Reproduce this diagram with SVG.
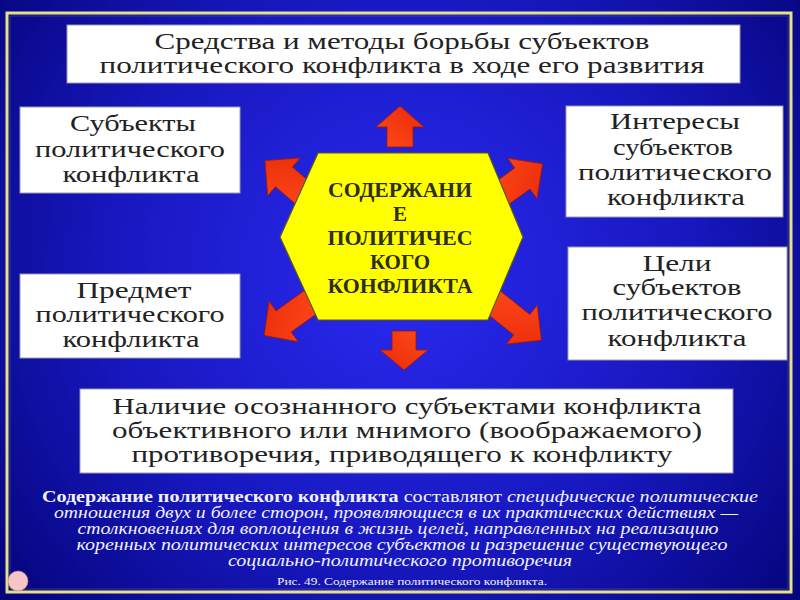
<svg xmlns="http://www.w3.org/2000/svg" width="800" height="600" viewBox="0 0 800 600">
<defs>
<radialGradient id="bg" cx="400" cy="270" r="520" gradientUnits="userSpaceOnUse">
<stop offset="0" stop-color="#2a2af2"/>
<stop offset="0.55" stop-color="#1818c0"/>
<stop offset="1" stop-color="#04047a"/>
</radialGradient>
<linearGradient id="ar" x1="0" y1="0" x2="1" y2="1">
<stop offset="0" stop-color="#ff4a1a"/>
<stop offset="1" stop-color="#e82a08"/>
</linearGradient>
<style>
.box{fill:#ffffff;stroke:#9a9aa8;stroke-width:1}
.ser{font-family:'Liberation Serif','Tinos','DejaVu Serif','Times New Roman',serif}
.bt{font-size:24px;fill:#222222;text-anchor:middle}
.bt2{font-size:23px;fill:#222222;text-anchor:middle}
.ht{font-size:21px;font-weight:bold;fill:#2e2e1c;text-anchor:middle}
.arw{fill:url(#ar);stroke:#a01800;stroke-width:0.8}
.pt{font-size:16px;fill:#f2f2ff;font-style:italic;text-anchor:middle}
</style>
</defs>
<rect x="0" y="0" width="800" height="600" fill="url(#bg)"/>
<rect x="7" y="13" width="784" height="579" fill="none" stroke="#e6e08a" stroke-width="3"/>
<rect x="10" y="16" width="778" height="573" fill="none" stroke="#8a8a60" stroke-width="0.6" opacity="0.6"/>

<g id="connectors">
<polygon class="arw" transform="translate(400,147) rotate(-90)" points="0,-13 20,-13 20,-24 41,0 20,24 20,13 0,13"/>
<polygon class="arw" transform="translate(404,331) rotate(90)" points="0,-12 19,-12 19,-24 39,0 19,24 19,12 0,12"/>
<polygon class="arw" transform="translate(312,201) rotate(-139.3)" points="0,-13 37,-13 37,-25 62,0 37,25 37,13 0,13"/>
<polygon class="arw" transform="translate(490,202) rotate(-36)" points="0,-13 40,-13 40,-25 65,0 40,25 40,13 0,13"/>
<polygon class="arw" transform="translate(312,301) rotate(144.2)" points="0,-13 35,-13 35,-25 59,0 35,25 35,13 0,13"/>
<polygon class="arw" transform="translate(492,301) rotate(38.5)" points="0,-13 38,-13 38,-25 63,0 38,25 38,13 0,13"/>
</g>

<g id="center" class="ser">
<polygon points="318,153 488,153 523,237 488,320 318,320 280,237" fill="#ffff00" stroke="#5a5a20" stroke-width="1.2"/>
<text class="ht" x="400" y="197" textLength="144" lengthAdjust="spacingAndGlyphs">СОДЕРЖАНИ</text>
<text class="ht" x="400" y="221">Е</text>
<text class="ht" x="400" y="245" textLength="145" lengthAdjust="spacingAndGlyphs">ПОЛИТИЧЕС</text>
<text class="ht" x="400" y="269">КОГО</text>
<text class="ht" x="400" y="293" textLength="145" lengthAdjust="spacingAndGlyphs">КОНФЛИКТА</text>
</g>

<g id="top" class="ser">
<rect class="box" x="67" y="25" width="673" height="58"/>
<text class="bt" x="402" y="49" textLength="495" lengthAdjust="spacingAndGlyphs">Средства и методы борьбы субъектов</text>
<text class="bt" x="402" y="73" textLength="605" lengthAdjust="spacingAndGlyphs">политического конфликта в ходе его развития</text>
</g>

<g id="subjects" class="ser">
<rect class="box" x="20" y="107" width="220" height="86"/>
<text class="bt" x="133" y="131" textLength="126" lengthAdjust="spacingAndGlyphs">Субъекты</text>
<text class="bt" x="130" y="157" textLength="190" lengthAdjust="spacingAndGlyphs">политического</text>
<text class="bt" x="131" y="182" textLength="137" lengthAdjust="spacingAndGlyphs">конфликта</text>
</g>

<g id="interests" class="ser">
<rect class="box" x="566" y="106" width="217" height="111"/>
<text class="bt" x="675" y="129" textLength="130" lengthAdjust="spacingAndGlyphs">Интересы</text>
<text class="bt" x="673" y="155" textLength="120" lengthAdjust="spacingAndGlyphs">субъектов</text>
<text class="bt" x="675" y="180" textLength="194" lengthAdjust="spacingAndGlyphs">политического</text>
<text class="bt" x="676" y="205" textLength="138" lengthAdjust="spacingAndGlyphs">конфликта</text>
</g>

<g id="subject-matter" class="ser">
<rect class="box" x="20" y="274" width="220" height="84"/>
<text class="bt" x="134" y="298" textLength="115" lengthAdjust="spacingAndGlyphs">Предмет</text>
<text class="bt" x="130" y="322" textLength="189" lengthAdjust="spacingAndGlyphs">политического</text>
<text class="bt" x="131" y="347" textLength="137" lengthAdjust="spacingAndGlyphs">конфликта</text>
</g>

<g id="goals" class="ser">
<rect class="box" x="568" y="247" width="219" height="113"/>
<text class="bt" x="677" y="271" textLength="69" lengthAdjust="spacingAndGlyphs">Цели</text>
<text class="bt" x="677" y="295" textLength="129" lengthAdjust="spacingAndGlyphs">субъектов</text>
<text class="bt" x="677" y="320" textLength="191" lengthAdjust="spacingAndGlyphs">политического</text>
<text class="bt" x="677" y="346" textLength="139" lengthAdjust="spacingAndGlyphs">конфликта</text>
</g>

<g id="contradiction" class="ser">
<rect class="box" x="80" y="389" width="653" height="84"/>
<text class="bt2" x="407" y="414" textLength="589" lengthAdjust="spacingAndGlyphs">Наличие осознанного субъектами конфликта</text>
<text class="bt2" x="407" y="438" textLength="590" lengthAdjust="spacingAndGlyphs">объективного или мнимого (воображаемого)</text>
<text class="bt2" x="402" y="462" textLength="541" lengthAdjust="spacingAndGlyphs">противоречия, приводящего к конфликту</text>
</g>

<g id="definition" class="ser">
<text x="42" y="502" font-size="16" fill="#f2f2ff" textLength="716" lengthAdjust="spacingAndGlyphs"><tspan font-weight="bold">Содержание политического конфликта</tspan> составляют  <tspan font-style="italic">специфические политические</tspan></text>
<text class="pt" x="396" y="518" textLength="684" lengthAdjust="spacingAndGlyphs">отношения двух и более сторон, проявляющиеся в их практических действиях —</text>
<text class="pt" x="398" y="534" textLength="641" lengthAdjust="spacingAndGlyphs">столкновениях для воплощения в жизнь целей, направленных на реализацию</text>
<text class="pt" x="402" y="550" textLength="651" lengthAdjust="spacingAndGlyphs">коренных политических интересов субъектов и разрешение существующего</text>
<text class="pt" x="400" y="566" textLength="344" lengthAdjust="spacingAndGlyphs">социально-политического противоречия</text>
<text x="412" y="585" text-anchor="middle" font-size="11" fill="#f2f2ff" textLength="270" lengthAdjust="spacingAndGlyphs">Рис. 49. Содержание политического конфликта.</text>
</g>

<g id="logo">
<circle cx="18" cy="581" r="10" fill="#f6c6c6" stroke="#c89090" stroke-width="0.6"/>
</g>
</svg>
